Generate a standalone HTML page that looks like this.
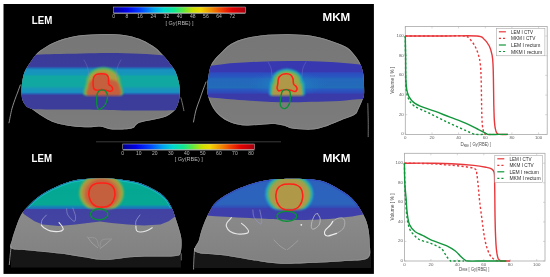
<!DOCTYPE html>
<html><head><meta charset="utf-8"><style>
html,body{margin:0;padding:0;background:#fff;}
body{width:550px;height:277px;overflow:hidden;position:relative;}
svg{position:absolute;left:0;top:0;display:block;}
text{font-family:"Liberation Sans",sans-serif;}
</style></head><body>
<svg width="550" height="277" viewBox="0 0 550 277" xmlns="http://www.w3.org/2000/svg">
<defs>
<linearGradient id="jet" x1="0" x2="1" y1="0" y2="0">
<stop offset="0" stop-color="#000090"/>
<stop offset="0.1" stop-color="#0000e8"/>
<stop offset="0.2" stop-color="#0040ff"/>
<stop offset="0.3" stop-color="#00a0f0"/>
<stop offset="0.38" stop-color="#00d8d0"/>
<stop offset="0.46" stop-color="#10e890"/>
<stop offset="0.53" stop-color="#60e840"/>
<stop offset="0.6" stop-color="#c8e000"/>
<stop offset="0.66" stop-color="#f0d800"/>
<stop offset="0.74" stop-color="#f09000"/>
<stop offset="0.82" stop-color="#f04000"/>
<stop offset="0.9" stop-color="#e00000"/>
<stop offset="1" stop-color="#a80010"/>
</linearGradient>
<filter id="b1" x="-20%" y="-20%" width="140%" height="140%"><feGaussianBlur stdDeviation="0.6"/></filter>
<filter id="b2" x="-30%" y="-30%" width="160%" height="160%"><feGaussianBlur stdDeviation="1.5"/></filter>
<filter id="b3" x="-50%" y="-50%" width="200%" height="200%"><feGaussianBlur stdDeviation="3"/></filter>
<clipPath id="c_tl"><path d="M21.5,90.0 C21.5,86.7 21.9,83.2 22.5,80.0 C23.1,76.8 23.6,74.1 25.0,71.0 C26.4,67.9 28.7,64.5 30.9,61.4 C33.1,58.3 35.5,54.9 38.2,52.3 C40.9,49.7 44.3,47.7 47.3,45.9 C50.3,44.1 51.9,43.0 56.4,41.4 C60.9,39.8 68.5,37.4 74.5,36.3 C80.5,35.1 86.8,34.9 92.7,34.5 C98.6,34.1 104.1,33.8 110.0,34.0 C115.9,34.2 122.6,34.8 128.0,35.8 C133.4,36.8 138.0,38.3 142.5,40.3 C147.0,42.3 151.5,44.9 155.1,47.6 C158.7,50.3 161.5,53.6 164.2,56.6 C166.9,59.6 169.4,62.9 171.4,65.6 C173.4,68.3 174.6,69.6 175.9,72.8 C177.2,76.0 178.7,81.0 179.3,85.0 C179.9,89.0 179.8,93.7 179.5,97.0 C179.2,100.3 178.4,102.7 177.5,105.0 C176.6,107.3 175.8,109.2 174.0,111.0 C172.2,112.8 169.3,114.8 167.0,116.0 C164.7,117.2 162.8,117.6 160.0,118.3 C157.2,119.0 153.8,119.5 150.5,120.2 C147.2,120.9 142.4,121.7 140.0,122.5 C137.6,123.3 137.4,124.0 136.0,125.0 C134.6,126.0 135.5,127.7 131.6,128.4 C127.7,129.2 117.9,129.8 112.6,129.5 C107.3,129.2 104.0,126.9 100.0,126.5 C96.0,126.1 93.2,127.3 88.6,127.3 C84.0,127.3 77.5,126.9 72.3,126.3 C67.1,125.7 61.6,124.6 57.5,123.5 C53.4,122.4 50.7,121.0 47.7,119.5 C44.7,118.0 42.2,116.3 39.5,114.5 C36.8,112.7 33.6,110.1 31.4,108.8 C29.2,107.5 28.0,107.9 26.5,106.4 C25.0,104.9 23.2,102.5 22.4,99.8 C21.6,97.1 21.5,93.3 21.5,90.0Z"/></clipPath>
<clipPath id="c_tr"><path d="M207.0,90.0 C206.6,85.3 207.9,80.0 208.5,76.0 C209.1,72.0 209.7,68.6 210.8,65.8 C211.9,63.0 213.5,61.0 215.0,59.0 C216.5,57.0 217.2,56.5 219.8,54.0 C222.5,51.5 226.5,46.7 230.9,44.0 C235.3,41.3 240.2,39.4 246.4,37.9 C252.6,36.4 260.8,35.4 268.0,34.8 C275.2,34.2 282.4,34.1 289.6,34.2 C296.8,34.4 304.6,34.7 311.3,35.7 C318.0,36.7 324.1,38.6 329.8,40.4 C335.5,42.2 341.6,44.6 345.3,46.5 C349.0,48.4 349.6,49.4 352.0,52.0 C354.4,54.6 357.6,58.7 359.5,62.2 C361.4,65.7 362.4,69.2 363.1,73.0 C363.9,76.8 363.9,81.3 364.0,85.0 C364.1,88.7 364.3,92.3 364.0,95.0 C363.7,97.7 363.0,98.5 362.0,101.0 C361.0,103.5 359.2,107.7 358.0,110.0 C356.8,112.3 357.8,112.9 354.6,114.7 C351.5,116.5 344.3,118.8 339.1,120.9 C333.9,123.0 328.2,125.6 323.6,127.1 C319.0,128.5 316.5,129.3 311.3,129.6 C306.1,129.8 297.3,129.3 292.7,128.6 C288.1,127.9 287.1,126.3 283.5,125.5 C279.9,124.7 277.2,124.0 271.0,124.0 C264.8,124.0 253.1,125.8 246.4,125.5 C239.7,125.2 235.6,124.3 230.9,122.5 C226.2,120.7 221.8,117.8 218.5,114.7 C215.2,111.6 212.9,108.1 211.0,104.0 C209.1,99.9 207.4,94.7 207.0,90.0Z"/></clipPath>
<clipPath id="c_bl"><path d="M12.0,240.0 C12.8,236.2 14.9,230.2 16.4,226.0 C17.9,221.8 19.3,218.0 21.0,215.0 C22.7,212.0 23.8,210.8 26.5,208.0 C29.2,205.2 32.8,201.1 37.0,197.9 C41.2,194.7 46.0,191.7 51.5,189.0 C57.0,186.3 64.4,183.2 70.0,181.5 C75.6,179.8 79.4,179.6 85.3,179.0 C91.2,178.4 98.9,178.0 105.5,178.2 C112.1,178.4 119.2,179.3 125.0,180.2 C130.8,181.0 135.1,181.6 140.2,183.3 C145.2,185.0 151.1,187.9 155.3,190.3 C159.5,192.7 162.7,195.0 165.4,197.9 C168.2,200.8 170.1,204.7 171.8,208.0 C173.5,211.3 174.2,214.3 175.5,218.0 C176.8,221.7 178.3,226.3 179.3,230.0 C180.3,233.7 181.3,236.3 181.5,240.0 C181.7,243.7 181.6,249.3 180.7,252.0 C179.8,254.7 181.1,255.2 176.0,256.0 C170.9,256.8 157.7,256.3 150.0,256.5 C142.3,256.7 136.3,256.7 130.0,257.2 C123.7,257.7 117.2,259.1 112.0,259.5 C106.8,259.9 103.4,260.0 98.8,259.6 C94.2,259.2 90.7,258.2 84.2,257.2 C77.7,256.2 69.0,254.7 60.0,253.6 C51.0,252.5 38.1,251.3 30.0,250.5 C21.9,249.7 14.5,250.2 11.5,248.5 C8.5,246.8 11.2,243.8 12.0,240.0Z"/></clipPath>
<clipPath id="c_br"><path d="M199.0,240.0 C199.9,236.4 200.4,233.9 201.4,230.7 C202.4,227.4 203.7,223.9 205.2,220.5 C206.7,217.1 208.5,213.3 210.2,210.4 C211.9,207.5 212.8,205.4 215.3,202.9 C217.8,200.4 221.2,197.8 225.4,195.3 C229.6,192.8 234.7,190.0 240.5,187.7 C246.3,185.4 253.4,182.9 260.0,181.4 C266.6,179.9 272.7,179.3 280.3,178.9 C287.9,178.5 298.6,178.6 305.5,178.9 C312.4,179.2 316.9,179.6 322.0,181.0 C327.1,182.4 331.1,184.7 336.0,187.5 C340.9,190.3 347.2,194.0 351.5,198.0 C355.8,202.0 358.9,207.0 361.6,211.6 C364.3,216.2 366.4,220.4 367.7,225.8 C369.0,231.2 369.7,238.6 369.7,244.0 C369.7,249.4 371.8,255.4 367.7,258.2 C363.6,261.0 352.9,260.3 345.0,261.0 C337.1,261.7 330.1,262.1 320.0,262.5 C309.9,262.9 294.4,263.9 284.6,263.7 C274.8,263.5 270.9,262.8 261.0,261.4 C251.2,260.0 236.3,257.1 225.5,255.5 C214.7,253.9 200.4,254.6 196.0,252.0 C191.6,249.4 198.1,243.6 199.0,240.0Z"/></clipPath>
<linearGradient id="mg_tl" x1="0" x2="0" y1="94" y2="97.5" gradientUnits="userSpaceOnUse"><stop offset="0" stop-color="#fff"/><stop offset="1" stop-color="#000"/></linearGradient>
<linearGradient id="mg_tr" x1="0" x2="0" y1="94" y2="97.5" gradientUnits="userSpaceOnUse"><stop offset="0" stop-color="#fff"/><stop offset="1" stop-color="#000"/></linearGradient>
<linearGradient id="mg_bl" x1="0" x2="0" y1="207" y2="211" gradientUnits="userSpaceOnUse"><stop offset="0" stop-color="#fff"/><stop offset="1" stop-color="#000"/></linearGradient>
<linearGradient id="mg_br" x1="0" x2="0" y1="208" y2="212" gradientUnits="userSpaceOnUse"><stop offset="0" stop-color="#fff"/><stop offset="1" stop-color="#000"/></linearGradient>
<mask id="m_hot_tl" maskUnits="userSpaceOnUse" x="0" y="0" width="550" height="277"><rect x="60" y="50" width="90" height="60" fill="url(#mg_tl)"/></mask>
<mask id="m_hot_tr" maskUnits="userSpaceOnUse" x="0" y="0" width="550" height="277"><rect x="240" y="50" width="90" height="60" fill="url(#mg_tr)"/></mask>
<mask id="m_hot_bl" maskUnits="userSpaceOnUse" x="0" y="0" width="550" height="277"><rect x="60" y="165" width="90" height="60" fill="url(#mg_bl)"/></mask>
<mask id="m_hot_br" maskUnits="userSpaceOnUse" x="0" y="0" width="550" height="277"><rect x="240" y="165" width="90" height="60" fill="url(#mg_br)"/></mask>
<clipPath id="c_rim"><rect x="0" y="170" width="380" height="38"/></clipPath>
<linearGradient id="band_bl" x1="0" x2="0" y1="178" y2="211" gradientUnits="userSpaceOnUse">
<stop offset="0.0000" stop-color="#10b0a8"/>
<stop offset="0.1212" stop-color="#06ac98"/>
<stop offset="0.3636" stop-color="#04a892"/>
<stop offset="0.8030" stop-color="#06a894"/>
<stop offset="0.8636" stop-color="#1488b4"/>
<stop offset="0.9242" stop-color="#2070b8"/>
<stop offset="0.9697" stop-color="#3848a8"/>
<stop offset="1.0000" stop-color="#4040a4"/>
</linearGradient>
<linearGradient id="band_br" x1="0" x2="0" y1="178" y2="210" gradientUnits="userSpaceOnUse">
<stop offset="0.0000" stop-color="#2a5cc0"/>
<stop offset="0.1250" stop-color="#2c62bc"/>
<stop offset="0.8125" stop-color="#2c64bc"/>
<stop offset="0.9062" stop-color="#3050b8"/>
<stop offset="1.0000" stop-color="#3c3ca8"/>
</linearGradient>
<linearGradient id="bband_bl" x1="0" x2="0" y1="208" y2="228" gradientUnits="userSpaceOnUse">
<stop offset="0.0000" stop-color="#4042a4"/>
<stop offset="0.2000" stop-color="#4242a2"/>
<stop offset="1.0000" stop-color="#4444a2"/>
</linearGradient>
<linearGradient id="bband_br" x1="0" x2="0" y1="208" y2="220" gradientUnits="userSpaceOnUse">
<stop offset="0.0000" stop-color="#3e3eac"/>
<stop offset="1.0000" stop-color="#4040aa"/>
</linearGradient>
<linearGradient id="gray_t" x1="0" x2="0" y1="34" y2="130" gradientUnits="userSpaceOnUse">
<stop offset="0.0000" stop-color="#767676"/>
<stop offset="0.2188" stop-color="#787878"/>
<stop offset="0.7917" stop-color="#7a7a7a"/>
<stop offset="1.0000" stop-color="#7c7c7c"/>
</linearGradient>
<linearGradient id="gray_b" x1="0" x2="0" y1="212" y2="262" gradientUnits="userSpaceOnUse">
<stop offset="0.0000" stop-color="#8a8a8a"/>
<stop offset="0.4600" stop-color="#868686"/>
<stop offset="1.0000" stop-color="#808080"/>
</linearGradient>
<linearGradient id="band_tl" x1="0" x2="0" y1="53" y2="110" gradientUnits="userSpaceOnUse">
<stop offset="0.0000" stop-color="#3a3a98"/>
<stop offset="0.2333" stop-color="#3c3c9c"/>
<stop offset="0.2684" stop-color="#2070b8"/>
<stop offset="0.2947" stop-color="#1890c0"/>
<stop offset="0.3772" stop-color="#1498b8"/>
<stop offset="0.4123" stop-color="#10a8a0"/>
<stop offset="0.5789" stop-color="#12a8a2"/>
<stop offset="0.6228" stop-color="#1898b8"/>
<stop offset="0.6895" stop-color="#1890c0"/>
<stop offset="0.7228" stop-color="#2c58b0"/>
<stop offset="0.7456" stop-color="#3c3c9c"/>
<stop offset="1.0000" stop-color="#3c3c9a"/>
</linearGradient>
<linearGradient id="band_tr" x1="0" x2="0" y1="60" y2="102" gradientUnits="userSpaceOnUse">
<stop offset="0.0000" stop-color="#3838b0"/>
<stop offset="0.2738" stop-color="#3838b0"/>
<stop offset="0.3095" stop-color="#2c4cc0"/>
<stop offset="0.4048" stop-color="#2858c0"/>
<stop offset="0.4524" stop-color="#2468bc"/>
<stop offset="0.6548" stop-color="#226cb8"/>
<stop offset="0.7024" stop-color="#2858c0"/>
<stop offset="0.7857" stop-color="#3048b8"/>
<stop offset="0.8214" stop-color="#3a3aa8"/>
<stop offset="1.0000" stop-color="#3a3aa8"/>
</linearGradient>
<radialGradient id="cy_tr" cx="287" cy="84" r="40" gradientUnits="userSpaceOnUse" gradientTransform="translate(287 84) scale(1 0.32) translate(-287 -84)">
<stop offset="0" stop-color="#1890c0" stop-opacity="0.9"/>
<stop offset="0.5" stop-color="#2080c4" stop-opacity="0.5"/>
<stop offset="1" stop-color="#2070c4" stop-opacity="0"/>
</radialGradient>
<radialGradient id="hot_l" cx="0.5" cy="0.5" r="0.5">
<stop offset="0" stop-color="#e07848"/>
<stop offset="0.55" stop-color="#dc8044"/>
<stop offset="0.72" stop-color="#d0b040"/>
<stop offset="0.86" stop-color="#80c060" stop-opacity="0.8"/>
<stop offset="1" stop-color="#40b0a0" stop-opacity="0"/>
</radialGradient>
<radialGradient id="hot_r" cx="0.5" cy="0.5" r="0.5">
<stop offset="0" stop-color="#d89848"/>
<stop offset="0.55" stop-color="#d49a48"/>
<stop offset="0.70" stop-color="#b8b840"/>
<stop offset="0.82" stop-color="#50c080" stop-opacity="0.9"/>
<stop offset="0.92" stop-color="#30a0d0" stop-opacity="0.6"/>
<stop offset="1" stop-color="#3a70cc" stop-opacity="0"/>
</radialGradient>
<filter id="f0" x="-50%" y="-50%" width="200%" height="200%"><feGaussianBlur stdDeviation="1.0"/></filter>
<filter id="f1" x="-50%" y="-50%" width="200%" height="200%"><feGaussianBlur stdDeviation="0.8"/></filter>
<filter id="f2" x="-50%" y="-50%" width="200%" height="200%"><feGaussianBlur stdDeviation="0.7"/></filter>
<filter id="f3" x="-50%" y="-50%" width="200%" height="200%"><feGaussianBlur stdDeviation="0.9"/></filter>
<filter id="f4" x="-50%" y="-50%" width="200%" height="200%"><feGaussianBlur stdDeviation="1.3"/></filter>
<filter id="f5" x="-50%" y="-50%" width="200%" height="200%"><feGaussianBlur stdDeviation="1.1"/></filter>
</defs>
<rect x="3.5" y="4" width="370.4" height="269.9" fill="#000"/>
<rect x="11" y="244" width="170" height="23.5" fill="#131313" filter="url(#b1)"/>
<rect x="195" y="248" width="176" height="20" fill="#131313" filter="url(#b1)"/>
<path d="M21.5,90.0 C21.5,86.7 21.9,83.2 22.5,80.0 C23.1,76.8 23.6,74.1 25.0,71.0 C26.4,67.9 28.7,64.5 30.9,61.4 C33.1,58.3 35.5,54.9 38.2,52.3 C40.9,49.7 44.3,47.7 47.3,45.9 C50.3,44.1 51.9,43.0 56.4,41.4 C60.9,39.8 68.5,37.4 74.5,36.3 C80.5,35.1 86.8,34.9 92.7,34.5 C98.6,34.1 104.1,33.8 110.0,34.0 C115.9,34.2 122.6,34.8 128.0,35.8 C133.4,36.8 138.0,38.3 142.5,40.3 C147.0,42.3 151.5,44.9 155.1,47.6 C158.7,50.3 161.5,53.6 164.2,56.6 C166.9,59.6 169.4,62.9 171.4,65.6 C173.4,68.3 174.6,69.6 175.9,72.8 C177.2,76.0 178.7,81.0 179.3,85.0 C179.9,89.0 179.8,93.7 179.5,97.0 C179.2,100.3 178.4,102.7 177.5,105.0 C176.6,107.3 175.8,109.2 174.0,111.0 C172.2,112.8 169.3,114.8 167.0,116.0 C164.7,117.2 162.8,117.6 160.0,118.3 C157.2,119.0 153.8,119.5 150.5,120.2 C147.2,120.9 142.4,121.7 140.0,122.5 C137.6,123.3 137.4,124.0 136.0,125.0 C134.6,126.0 135.5,127.7 131.6,128.4 C127.7,129.2 117.9,129.8 112.6,129.5 C107.3,129.2 104.0,126.9 100.0,126.5 C96.0,126.1 93.2,127.3 88.6,127.3 C84.0,127.3 77.5,126.9 72.3,126.3 C67.1,125.7 61.6,124.6 57.5,123.5 C53.4,122.4 50.7,121.0 47.7,119.5 C44.7,118.0 42.2,116.3 39.5,114.5 C36.8,112.7 33.6,110.1 31.4,108.8 C29.2,107.5 28.0,107.9 26.5,106.4 C25.0,104.9 23.2,102.5 22.4,99.8 C21.6,97.1 21.5,93.3 21.5,90.0Z" fill="url(#gray_t)"/>
<path d="M21.5,90.0 C21.5,86.7 21.9,83.2 22.5,80.0 C23.1,76.8 23.6,74.1 25.0,71.0 C26.4,67.9 28.7,64.5 30.9,61.4 C33.1,58.3 35.5,54.9 38.2,52.3 C40.9,49.7 44.3,47.7 47.3,45.9 C50.3,44.1 51.9,43.0 56.4,41.4 C60.9,39.8 68.5,37.4 74.5,36.3 C80.5,35.1 86.8,34.9 92.7,34.5 C98.6,34.1 104.1,33.8 110.0,34.0 C115.9,34.2 122.6,34.8 128.0,35.8 C133.4,36.8 138.0,38.3 142.5,40.3 C147.0,42.3 151.5,44.9 155.1,47.6 C158.7,50.3 161.5,53.6 164.2,56.6 C166.9,59.6 169.4,62.9 171.4,65.6 C173.4,68.3 174.6,69.6 175.9,72.8 C177.2,76.0 178.7,81.0 179.3,85.0 C179.9,89.0 179.8,93.7 179.5,97.0 C179.2,100.3 178.4,102.7 177.5,105.0 C176.6,107.3 175.8,109.2 174.0,111.0 C172.2,112.8 169.3,114.8 167.0,116.0 C164.7,117.2 162.8,117.6 160.0,118.3 C157.2,119.0 153.8,119.5 150.5,120.2 C147.2,120.9 142.4,121.7 140.0,122.5 C137.6,123.3 137.4,124.0 136.0,125.0 C134.6,126.0 135.5,127.7 131.6,128.4 C127.7,129.2 117.9,129.8 112.6,129.5 C107.3,129.2 104.0,126.9 100.0,126.5 C96.0,126.1 93.2,127.3 88.6,127.3 C84.0,127.3 77.5,126.9 72.3,126.3 C67.1,125.7 61.6,124.6 57.5,123.5 C53.4,122.4 50.7,121.0 47.7,119.5 C44.7,118.0 42.2,116.3 39.5,114.5 C36.8,112.7 33.6,110.1 31.4,108.8 C29.2,107.5 28.0,107.9 26.5,106.4 C25.0,104.9 23.2,102.5 22.4,99.8 C21.6,97.1 21.5,93.3 21.5,90.0Z" fill="none" stroke="#8e8e8e" stroke-width="1.6" clip-path="url(#c_tl)"/>
<g clip-path="url(#c_tl)">
<path d="M0,56 C30,55 40,54.3 60,54 C80,53.5 100,53 110,53 C130,53.2 150,54 165,55.5 L200,57 L200,109 C180,110 170,110.5 150,110.5 C120,110.8 100,109.5 60,109.5 C40,109.5 30,109.3 0,109.3 Z" fill="url(#band_tl)"/>
<g mask="url(#m_hot_tl)">
<path d="M86.0,97.0 C80.2,94.5 85.9,85.1 86.0,81.8 C86.1,78.5 86.3,78.7 86.8,77.3 C87.4,75.9 88.3,74.5 89.3,73.3 C90.4,72.1 91.7,70.9 93.1,70.1 C94.6,69.2 96.3,68.5 98.0,68.0 C99.6,67.5 101.5,67.3 103.3,67.3 C105.1,67.3 107.0,67.5 108.6,68.0 C110.3,68.5 112.0,69.2 113.5,70.1 C114.9,70.9 116.2,72.1 117.3,73.3 C118.3,74.5 119.2,75.9 119.8,77.3 C120.3,78.7 120.5,78.5 120.6,81.8 C120.7,85.1 126.4,94.5 120.6,97.0 C114.8,99.5 91.8,99.5 86.0,97.0Z" fill="#40b070" opacity="1" filter="url(#f0)"/>
<path d="M87.4,97.0 C82.1,94.5 87.3,84.9 87.4,81.7 C87.5,78.5 87.7,79.0 88.2,77.7 C88.7,76.4 89.5,75.1 90.4,74.1 C91.4,73.0 92.6,72.0 94.0,71.2 C95.3,70.4 96.8,69.8 98.4,69.3 C99.9,68.9 101.7,68.7 103.3,68.7 C104.9,68.7 106.7,68.9 108.2,69.3 C109.8,69.8 111.3,70.4 112.6,71.2 C114.0,72.0 115.2,73.0 116.2,74.1 C117.1,75.1 117.9,76.4 118.4,77.7 C118.9,79.0 119.1,78.5 119.2,81.7 C119.3,84.9 124.5,94.5 119.2,97.0 C113.9,99.5 92.7,99.5 87.4,97.0Z" fill="#88b04c" opacity="1" filter="url(#f1)"/>
<path d="M88.7,97.0 C83.8,94.4 88.6,84.8 88.7,81.6 C88.8,78.4 88.9,79.2 89.4,78.0 C89.9,76.9 90.6,75.8 91.5,74.8 C92.4,73.9 93.5,73.0 94.7,72.3 C95.9,71.6 97.4,71.0 98.8,70.7 C100.2,70.3 101.8,70.1 103.3,70.1 C104.8,70.1 106.4,70.3 107.8,70.7 C109.2,71.0 110.7,71.6 111.9,72.3 C113.1,73.0 114.2,73.9 115.1,74.8 C116.0,75.8 116.7,76.9 117.2,78.0 C117.7,79.2 117.8,78.4 117.9,81.6 C118.0,84.8 122.8,94.4 117.9,97.0 C113.0,99.6 93.6,99.6 88.7,97.0Z" fill="#a8a040" opacity="1" filter="url(#f2)"/>
<path d="M89.0,97.0 C83.9,95.2 88.3,88.6 88.5,86.0 C88.7,83.4 89.2,82.6 90.0,81.5 C90.8,80.4 92.2,80.5 93.0,79.5 C93.8,78.5 93.2,76.6 94.5,75.5 C95.8,74.4 98.4,73.2 100.5,73.0 C102.6,72.8 105.6,73.0 107.0,74.0 C108.4,75.0 107.8,77.9 109.0,79.0 C110.2,80.1 112.9,79.7 114.5,80.5 C116.1,81.3 117.8,81.2 118.5,84.0 C119.2,86.8 123.9,94.8 119.0,97.0 C114.1,99.2 94.1,98.8 89.0,97.0Z" fill="#c4603e" opacity="1" filter="url(#f1)"/>
</g>
</g>
<path d="M93.8,77.3 C94.4,76.0 95.3,75.0 96.6,74.4 C97.9,73.8 100.1,73.7 101.7,73.7 C103.3,73.7 104.9,73.8 106.0,74.4 C107.1,75.0 107.8,75.7 108.3,77.3 C108.8,78.9 108.2,82.5 108.7,84.0 C109.2,85.5 110.9,85.6 111.6,86.5 C112.3,87.4 112.9,88.6 112.7,89.4 C112.5,90.2 111.5,91.2 110.4,91.3 C109.3,91.4 107.5,90.6 106.0,90.3 C104.5,90.0 103.3,89.6 101.7,89.6 C100.1,89.6 97.9,90.5 96.6,90.3 C95.2,90.0 94.2,89.5 93.6,88.1 C93.0,86.7 93.1,83.8 93.1,82.0 C93.1,80.2 93.2,78.6 93.8,77.3Z" fill="none" stroke="#ff2018" stroke-width="1.55"/>
<path d="M101.5,89.9 C102.9,89.7 104.9,90.3 105.9,91.5 C106.9,92.7 107.6,94.7 107.5,96.9 C107.4,99.1 106.6,102.4 105.3,104.5 C104.0,106.6 101.2,109.0 99.9,109.4 C98.6,109.8 97.7,108.4 97.2,106.7 C96.7,105.0 96.6,101.4 96.7,99.1 C96.8,96.8 96.9,94.1 97.7,92.6 C98.5,91.1 100.1,90.1 101.5,89.9Z" fill="none" stroke="#0a9038" stroke-width="1.35"/>
<path d="M207.0,90.0 C206.6,85.3 207.9,80.0 208.5,76.0 C209.1,72.0 209.7,68.6 210.8,65.8 C211.9,63.0 213.5,61.0 215.0,59.0 C216.5,57.0 217.2,56.5 219.8,54.0 C222.5,51.5 226.5,46.7 230.9,44.0 C235.3,41.3 240.2,39.4 246.4,37.9 C252.6,36.4 260.8,35.4 268.0,34.8 C275.2,34.2 282.4,34.1 289.6,34.2 C296.8,34.4 304.6,34.7 311.3,35.7 C318.0,36.7 324.1,38.6 329.8,40.4 C335.5,42.2 341.6,44.6 345.3,46.5 C349.0,48.4 349.6,49.4 352.0,52.0 C354.4,54.6 357.6,58.7 359.5,62.2 C361.4,65.7 362.4,69.2 363.1,73.0 C363.9,76.8 363.9,81.3 364.0,85.0 C364.1,88.7 364.3,92.3 364.0,95.0 C363.7,97.7 363.0,98.5 362.0,101.0 C361.0,103.5 359.2,107.7 358.0,110.0 C356.8,112.3 357.8,112.9 354.6,114.7 C351.5,116.5 344.3,118.8 339.1,120.9 C333.9,123.0 328.2,125.6 323.6,127.1 C319.0,128.5 316.5,129.3 311.3,129.6 C306.1,129.8 297.3,129.3 292.7,128.6 C288.1,127.9 287.1,126.3 283.5,125.5 C279.9,124.7 277.2,124.0 271.0,124.0 C264.8,124.0 253.1,125.8 246.4,125.5 C239.7,125.2 235.6,124.3 230.9,122.5 C226.2,120.7 221.8,117.8 218.5,114.7 C215.2,111.6 212.9,108.1 211.0,104.0 C209.1,99.9 207.4,94.7 207.0,90.0Z" fill="url(#gray_t)"/>
<path d="M207.0,90.0 C206.6,85.3 207.9,80.0 208.5,76.0 C209.1,72.0 209.7,68.6 210.8,65.8 C211.9,63.0 213.5,61.0 215.0,59.0 C216.5,57.0 217.2,56.5 219.8,54.0 C222.5,51.5 226.5,46.7 230.9,44.0 C235.3,41.3 240.2,39.4 246.4,37.9 C252.6,36.4 260.8,35.4 268.0,34.8 C275.2,34.2 282.4,34.1 289.6,34.2 C296.8,34.4 304.6,34.7 311.3,35.7 C318.0,36.7 324.1,38.6 329.8,40.4 C335.5,42.2 341.6,44.6 345.3,46.5 C349.0,48.4 349.6,49.4 352.0,52.0 C354.4,54.6 357.6,58.7 359.5,62.2 C361.4,65.7 362.4,69.2 363.1,73.0 C363.9,76.8 363.9,81.3 364.0,85.0 C364.1,88.7 364.3,92.3 364.0,95.0 C363.7,97.7 363.0,98.5 362.0,101.0 C361.0,103.5 359.2,107.7 358.0,110.0 C356.8,112.3 357.8,112.9 354.6,114.7 C351.5,116.5 344.3,118.8 339.1,120.9 C333.9,123.0 328.2,125.6 323.6,127.1 C319.0,128.5 316.5,129.3 311.3,129.6 C306.1,129.8 297.3,129.3 292.7,128.6 C288.1,127.9 287.1,126.3 283.5,125.5 C279.9,124.7 277.2,124.0 271.0,124.0 C264.8,124.0 253.1,125.8 246.4,125.5 C239.7,125.2 235.6,124.3 230.9,122.5 C226.2,120.7 221.8,117.8 218.5,114.7 C215.2,111.6 212.9,108.1 211.0,104.0 C209.1,99.9 207.4,94.7 207.0,90.0Z" fill="none" stroke="#8e8e8e" stroke-width="1.6" clip-path="url(#c_tr)"/>
<g clip-path="url(#c_tr)">
<path d="M195,67.5 C210,66 220,64.5 230,63.3 C250,62 270,61 290,61 C310,61 330,61.5 350,63.5 L375,66 L375,99 C360,98.5 350,100 340,101 C320,101.5 300,102.3 290,102.3 C270,102 250,100.8 234,99.5 C220,98.5 210,97 195,96 Z" fill="url(#band_tr)"/>
<rect x="230" y="66" width="115" height="30" fill="url(#cy_tr)"/>
<g mask="url(#m_hot_tr)">
<g filter="url(#f0)" fill="#20a0c0"><path d="M271.5,97.0 C266.3,94.3 271.4,84.1 271.5,80.8 C271.6,77.5 271.8,78.3 272.3,77.1 C272.8,75.9 273.5,74.7 274.5,73.7 C275.4,72.7 276.6,71.8 277.9,71.1 C279.2,70.4 280.7,69.8 282.2,69.4 C283.7,69.0 285.4,68.8 287.0,68.8 C288.6,68.8 290.3,69.0 291.8,69.4 C293.3,69.8 294.8,70.4 296.1,71.1 C297.4,71.8 298.6,72.7 299.5,73.7 C300.5,74.7 301.2,75.9 301.7,77.1 C302.2,78.3 302.4,77.5 302.5,80.8 C302.6,84.1 307.7,94.3 302.5,97.0 C297.3,99.7 276.7,99.7 271.5,97.0Z"/><path d="M269.8,97 L269.8,85.0 Q269.8,79.0 275.8,79.0 L298.4,79.0 Q304.4,79.0 304.4,85.0 L304.4,97 Z"/></g>
<g filter="url(#f3)" fill="#30b0a0"><path d="M273.0,97.0 C268.3,94.3 272.9,84.0 273.0,80.7 C273.1,77.4 273.2,78.5 273.7,77.5 C274.1,76.4 274.8,75.4 275.7,74.5 C276.5,73.7 277.6,72.8 278.8,72.2 C279.9,71.6 281.3,71.0 282.7,70.7 C284.0,70.4 285.6,70.2 287.0,70.2 C288.4,70.2 290.0,70.4 291.3,70.7 C292.7,71.0 294.1,71.6 295.2,72.2 C296.4,72.8 297.5,73.7 298.3,74.5 C299.2,75.4 299.9,76.4 300.3,77.5 C300.8,78.5 300.9,77.4 301.0,80.7 C301.1,84.0 305.7,94.3 301.0,97.0 C296.3,99.7 277.7,99.7 273.0,97.0Z"/><path d="M271.2,97 L271.2,85.5 Q271.2,80.5 276.2,80.5 L298.0,80.5 Q303.0,80.5 303.0,85.5 L303.0,97 Z"/></g>
<g filter="url(#f1)" fill="#78b050"><path d="M274.2,97.0 C269.9,94.3 274.1,84.2 274.2,81.0 C274.3,77.8 274.4,79.0 274.8,78.1 C275.2,77.1 275.9,76.2 276.6,75.4 C277.4,74.6 278.4,73.9 279.5,73.3 C280.5,72.7 281.8,72.3 283.0,72.0 C284.3,71.7 285.7,71.5 287.0,71.5 C288.3,71.5 289.7,71.7 291.0,72.0 C292.2,72.3 293.5,72.7 294.5,73.3 C295.6,73.9 296.6,74.6 297.4,75.4 C298.1,76.2 298.8,77.1 299.2,78.1 C299.6,79.0 299.7,77.8 299.8,81.0 C299.9,84.2 304.1,94.3 299.8,97.0 C295.5,99.7 278.5,99.7 274.2,97.0Z"/><path d="M272.5,97 L272.5,86.5 Q272.5,82.0 277.0,82.0 L297.2,82.0 Q301.7,82.0 301.7,86.5 L301.7,97 Z"/></g>
<g filter="url(#f1)" fill="#a0a848"><path d="M275.5,97.0 C271.7,94.3 275.4,84.1 275.5,81.0 C275.6,77.9 275.7,79.2 276.1,78.4 C276.4,77.5 277.0,76.7 277.7,76.0 C278.4,75.3 279.3,74.6 280.2,74.1 C281.2,73.6 282.3,73.2 283.4,72.9 C284.6,72.6 285.8,72.5 287.0,72.5 C288.2,72.5 289.4,72.6 290.6,72.9 C291.7,73.2 292.8,73.6 293.8,74.1 C294.7,74.6 295.6,75.3 296.3,76.0 C297.0,76.7 297.6,77.5 297.9,78.4 C298.3,79.2 298.4,77.9 298.5,81.0 C298.6,84.1 302.3,94.3 298.5,97.0 C294.7,99.7 279.3,99.7 275.5,97.0Z"/><path d="M273.5,97 L273.5,87.0 Q273.5,83.0 277.5,83.0 L296.7,83.0 Q300.7,83.0 300.7,87.0 L300.7,97 Z"/></g>
<path d="M274.5,97.0 C270.2,95.3 273.9,89.2 274.2,87.0 C274.4,84.8 275.4,84.6 276.0,84.0 C276.6,83.4 277.6,84.6 278.0,83.5 C278.4,82.4 277.9,79.0 278.6,77.5 C279.4,76.0 281.1,75.2 282.5,74.6 C283.9,74.0 285.3,73.9 286.7,74.0 C288.1,74.1 289.7,74.5 290.6,75.2 C291.6,76.0 292.0,77.2 292.4,78.5 C292.8,79.8 292.2,82.2 293.0,83.0 C293.8,83.8 295.9,82.8 297.0,83.5 C298.1,84.2 299.3,84.8 299.8,87.0 C300.3,89.2 304.2,95.3 300.0,97.0 C295.8,98.7 278.8,98.7 274.5,97.0Z" fill="#b09848" opacity="1" filter="url(#f1)"/>
</g>
</g>
<path d="M279.2,77.1 C279.9,76.2 281.4,75.0 282.6,74.4 C283.9,73.8 285.3,73.6 286.7,73.7 C288.1,73.8 289.8,74.2 290.8,75.0 C291.8,75.8 292.4,77.0 292.9,78.5 C293.4,80.0 293.0,82.6 293.6,84.0 C294.2,85.4 295.7,85.8 296.3,86.7 C296.9,87.6 297.2,88.7 297.0,89.5 C296.8,90.3 296.0,91.4 295.0,91.5 C294.0,91.6 292.2,90.5 290.8,90.2 C289.4,89.9 288.2,89.5 286.7,89.5 C285.2,89.5 283.3,90.0 281.9,90.2 C280.5,90.4 279.3,91.2 278.5,90.8 C277.7,90.4 277.2,89.2 277.1,88.1 C277.0,87.0 277.6,85.4 277.8,84.0 C278.0,82.6 278.0,81.1 278.2,79.9 C278.4,78.8 278.5,78.0 279.2,77.1Z" fill="none" stroke="#ff2018" stroke-width="1.55"/>
<path d="M285.9,89.6 C287.1,89.6 288.8,90.2 289.5,91.0 C290.2,91.8 290.3,92.4 290.3,94.5 C290.3,96.6 290.3,101.2 289.4,103.6 C288.5,105.9 286.4,108.3 284.9,108.6 C283.4,108.9 281.0,107.7 280.4,105.4 C279.8,103.1 280.8,97.4 281.2,95.0 C281.6,92.6 281.7,91.9 282.5,91.0 C283.3,90.1 284.7,89.6 285.9,89.6Z" fill="none" stroke="#0a9038" stroke-width="1.35"/>
<path d="M12.0,240.0 C12.8,236.2 14.9,230.2 16.4,226.0 C17.9,221.8 19.3,218.0 21.0,215.0 C22.7,212.0 23.8,210.8 26.5,208.0 C29.2,205.2 32.8,201.1 37.0,197.9 C41.2,194.7 46.0,191.7 51.5,189.0 C57.0,186.3 64.4,183.2 70.0,181.5 C75.6,179.8 79.4,179.6 85.3,179.0 C91.2,178.4 98.9,178.0 105.5,178.2 C112.1,178.4 119.2,179.3 125.0,180.2 C130.8,181.0 135.1,181.6 140.2,183.3 C145.2,185.0 151.1,187.9 155.3,190.3 C159.5,192.7 162.7,195.0 165.4,197.9 C168.2,200.8 170.1,204.7 171.8,208.0 C173.5,211.3 174.2,214.3 175.5,218.0 C176.8,221.7 178.3,226.3 179.3,230.0 C180.3,233.7 181.3,236.3 181.5,240.0 C181.7,243.7 181.6,249.3 180.7,252.0 C179.8,254.7 181.1,255.2 176.0,256.0 C170.9,256.8 157.7,256.3 150.0,256.5 C142.3,256.7 136.3,256.7 130.0,257.2 C123.7,257.7 117.2,259.1 112.0,259.5 C106.8,259.9 103.4,260.0 98.8,259.6 C94.2,259.2 90.7,258.2 84.2,257.2 C77.7,256.2 69.0,254.7 60.0,253.6 C51.0,252.5 38.1,251.3 30.0,250.5 C21.9,249.7 14.5,250.2 11.5,248.5 C8.5,246.8 11.2,243.8 12.0,240.0Z" fill="url(#gray_b)"/>
<path d="M12.0,240.0 C12.8,236.2 14.9,230.2 16.4,226.0 C17.9,221.8 19.3,218.0 21.0,215.0 C22.7,212.0 23.8,210.8 26.5,208.0 C29.2,205.2 32.8,201.1 37.0,197.9 C41.2,194.7 46.0,191.7 51.5,189.0 C57.0,186.3 64.4,183.2 70.0,181.5 C75.6,179.8 79.4,179.6 85.3,179.0 C91.2,178.4 98.9,178.0 105.5,178.2 C112.1,178.4 119.2,179.3 125.0,180.2 C130.8,181.0 135.1,181.6 140.2,183.3 C145.2,185.0 151.1,187.9 155.3,190.3 C159.5,192.7 162.7,195.0 165.4,197.9 C168.2,200.8 170.1,204.7 171.8,208.0 C173.5,211.3 174.2,214.3 175.5,218.0 C176.8,221.7 178.3,226.3 179.3,230.0 C180.3,233.7 181.3,236.3 181.5,240.0 C181.7,243.7 181.6,249.3 180.7,252.0 C179.8,254.7 181.1,255.2 176.0,256.0 C170.9,256.8 157.7,256.3 150.0,256.5 C142.3,256.7 136.3,256.7 130.0,257.2 C123.7,257.7 117.2,259.1 112.0,259.5 C106.8,259.9 103.4,260.0 98.8,259.6 C94.2,259.2 90.7,258.2 84.2,257.2 C77.7,256.2 69.0,254.7 60.0,253.6 C51.0,252.5 38.1,251.3 30.0,250.5 C21.9,249.7 14.5,250.2 11.5,248.5 C8.5,246.8 11.2,243.8 12.0,240.0Z" fill="none" stroke="#8e8e8e" stroke-width="1.6" clip-path="url(#c_bl)"/>
<g clip-path="url(#c_bl)">
<rect x="0" y="170" width="200" height="41" fill="url(#band_bl)"/>
<path d="M12.0,240.0 C12.8,236.2 14.9,230.2 16.4,226.0 C17.9,221.8 19.3,218.0 21.0,215.0 C22.7,212.0 23.8,210.8 26.5,208.0 C29.2,205.2 32.8,201.1 37.0,197.9 C41.2,194.7 46.0,191.7 51.5,189.0 C57.0,186.3 64.4,183.2 70.0,181.5 C75.6,179.8 79.4,179.6 85.3,179.0 C91.2,178.4 98.9,178.0 105.5,178.2 C112.1,178.4 119.2,179.3 125.0,180.2 C130.8,181.0 135.1,181.6 140.2,183.3 C145.2,185.0 151.1,187.9 155.3,190.3 C159.5,192.7 162.7,195.0 165.4,197.9 C168.2,200.8 170.1,204.7 171.8,208.0 C173.5,211.3 174.2,214.3 175.5,218.0 C176.8,221.7 178.3,226.3 179.3,230.0 C180.3,233.7 181.3,236.3 181.5,240.0 C181.7,243.7 181.6,249.3 180.7,252.0 C179.8,254.7 181.1,255.2 176.0,256.0 C170.9,256.8 157.7,256.3 150.0,256.5 C142.3,256.7 136.3,256.7 130.0,257.2 C123.7,257.7 117.2,259.1 112.0,259.5 C106.8,259.9 103.4,260.0 98.8,259.6 C94.2,259.2 90.7,258.2 84.2,257.2 C77.7,256.2 69.0,254.7 60.0,253.6 C51.0,252.5 38.1,251.3 30.0,250.5 C21.9,249.7 14.5,250.2 11.5,248.5 C8.5,246.8 11.2,243.8 12.0,240.0Z" fill="none" stroke="#18c0c0" stroke-width="3.4" opacity="0.8" clip-path="url(#c_rim)"/>
<path d="M12.0,240.0 C12.8,236.2 14.9,230.2 16.4,226.0 C17.9,221.8 19.3,218.0 21.0,215.0 C22.7,212.0 23.8,210.8 26.5,208.0 C29.2,205.2 32.8,201.1 37.0,197.9 C41.2,194.7 46.0,191.7 51.5,189.0 C57.0,186.3 64.4,183.2 70.0,181.5 C75.6,179.8 79.4,179.6 85.3,179.0 C91.2,178.4 98.9,178.0 105.5,178.2 C112.1,178.4 119.2,179.3 125.0,180.2 C130.8,181.0 135.1,181.6 140.2,183.3 C145.2,185.0 151.1,187.9 155.3,190.3 C159.5,192.7 162.7,195.0 165.4,197.9 C168.2,200.8 170.1,204.7 171.8,208.0 C173.5,211.3 174.2,214.3 175.5,218.0 C176.8,221.7 178.3,226.3 179.3,230.0 C180.3,233.7 181.3,236.3 181.5,240.0 C181.7,243.7 181.6,249.3 180.7,252.0 C179.8,254.7 181.1,255.2 176.0,256.0 C170.9,256.8 157.7,256.3 150.0,256.5 C142.3,256.7 136.3,256.7 130.0,257.2 C123.7,257.7 117.2,259.1 112.0,259.5 C106.8,259.9 103.4,260.0 98.8,259.6 C94.2,259.2 90.7,258.2 84.2,257.2 C77.7,256.2 69.0,254.7 60.0,253.6 C51.0,252.5 38.1,251.3 30.0,250.5 C21.9,249.7 14.5,250.2 11.5,248.5 C8.5,246.8 11.2,243.8 12.0,240.0Z" fill="none" stroke="#2040a0" stroke-width="1.3" opacity="0.9" clip-path="url(#c_rim)"/>
<path d="M0,209 L200,209 L200,205 L178,212 L175.2,216.4 L168.6,221.3 L160.5,224.5 L144.0,225.4 L127.7,224.5 L111.4,222.9 L100.0,221.5 L91.8,222.5 L75.5,224.5 L59.0,226.0 L42.7,224.5 L34.5,221.3 L24.7,214.7 L20.0,210.0 L0.0,205.0 Z" fill="url(#bband_bl)"/>
<g mask="url(#m_hot_bl)">
<ellipse cx="101.5" cy="193" rx="22.5" ry="19" fill="#60b060" opacity="1" filter="url(#f4)"/>
<ellipse cx="101.5" cy="193" rx="21" ry="18" fill="#a0a840" opacity="1" filter="url(#f5)"/>
<ellipse cx="101.5" cy="193" rx="19.5" ry="17" fill="#b88840" opacity="1" filter="url(#f0)"/>
<ellipse cx="101.5" cy="194" rx="16.5" ry="15" fill="#c4603e" opacity="1" filter="url(#f3)"/>
</g>
</g>
<path d="M114.9,195.0 C114.8,196.4 114.3,198.1 113.9,199.3 C113.5,200.5 113.0,201.3 112.5,202.1 C112.0,202.9 111.4,203.6 110.7,204.3 C110.0,204.9 109.3,205.4 108.5,205.8 C107.7,206.3 106.9,206.6 105.8,206.8 C104.7,207.0 103.2,207.1 101.9,207.1 C100.6,207.1 99.1,207.0 98.0,206.8 C96.9,206.6 96.1,206.3 95.3,205.8 C94.5,205.4 93.8,204.9 93.1,204.3 C92.4,203.6 91.8,202.9 91.3,202.1 C90.8,201.3 90.3,200.5 89.9,199.3 C89.5,198.1 89.0,196.4 88.9,195.0 C88.8,193.6 89.0,191.9 89.2,190.7 C89.5,189.5 89.8,188.7 90.3,187.9 C90.7,187.1 91.3,186.4 91.9,185.7 C92.6,185.1 93.4,184.6 94.3,184.2 C95.2,183.7 96.0,183.4 97.3,183.2 C98.6,183.0 100.4,182.9 101.9,182.9 C103.4,182.9 105.2,183.0 106.5,183.2 C107.8,183.4 108.6,183.7 109.5,184.2 C110.4,184.6 111.2,185.1 111.9,185.7 C112.5,186.4 113.1,187.1 113.5,187.9 C114.0,188.7 114.3,189.5 114.6,190.7 C114.8,191.9 115.0,193.6 114.9,195.0Z" fill="none" stroke="#ff2018" stroke-width="1.55"/>
<ellipse cx="99.2" cy="214.2" rx="8.7" ry="5.5" fill="none" stroke="#0a9038" stroke-width="1.35"/>
<path d="M199.0,240.0 C199.9,236.4 200.4,233.9 201.4,230.7 C202.4,227.4 203.7,223.9 205.2,220.5 C206.7,217.1 208.5,213.3 210.2,210.4 C211.9,207.5 212.8,205.4 215.3,202.9 C217.8,200.4 221.2,197.8 225.4,195.3 C229.6,192.8 234.7,190.0 240.5,187.7 C246.3,185.4 253.4,182.9 260.0,181.4 C266.6,179.9 272.7,179.3 280.3,178.9 C287.9,178.5 298.6,178.6 305.5,178.9 C312.4,179.2 316.9,179.6 322.0,181.0 C327.1,182.4 331.1,184.7 336.0,187.5 C340.9,190.3 347.2,194.0 351.5,198.0 C355.8,202.0 358.9,207.0 361.6,211.6 C364.3,216.2 366.4,220.4 367.7,225.8 C369.0,231.2 369.7,238.6 369.7,244.0 C369.7,249.4 371.8,255.4 367.7,258.2 C363.6,261.0 352.9,260.3 345.0,261.0 C337.1,261.7 330.1,262.1 320.0,262.5 C309.9,262.9 294.4,263.9 284.6,263.7 C274.8,263.5 270.9,262.8 261.0,261.4 C251.2,260.0 236.3,257.1 225.5,255.5 C214.7,253.9 200.4,254.6 196.0,252.0 C191.6,249.4 198.1,243.6 199.0,240.0Z" fill="url(#gray_b)"/>
<path d="M199.0,240.0 C199.9,236.4 200.4,233.9 201.4,230.7 C202.4,227.4 203.7,223.9 205.2,220.5 C206.7,217.1 208.5,213.3 210.2,210.4 C211.9,207.5 212.8,205.4 215.3,202.9 C217.8,200.4 221.2,197.8 225.4,195.3 C229.6,192.8 234.7,190.0 240.5,187.7 C246.3,185.4 253.4,182.9 260.0,181.4 C266.6,179.9 272.7,179.3 280.3,178.9 C287.9,178.5 298.6,178.6 305.5,178.9 C312.4,179.2 316.9,179.6 322.0,181.0 C327.1,182.4 331.1,184.7 336.0,187.5 C340.9,190.3 347.2,194.0 351.5,198.0 C355.8,202.0 358.9,207.0 361.6,211.6 C364.3,216.2 366.4,220.4 367.7,225.8 C369.0,231.2 369.7,238.6 369.7,244.0 C369.7,249.4 371.8,255.4 367.7,258.2 C363.6,261.0 352.9,260.3 345.0,261.0 C337.1,261.7 330.1,262.1 320.0,262.5 C309.9,262.9 294.4,263.9 284.6,263.7 C274.8,263.5 270.9,262.8 261.0,261.4 C251.2,260.0 236.3,257.1 225.5,255.5 C214.7,253.9 200.4,254.6 196.0,252.0 C191.6,249.4 198.1,243.6 199.0,240.0Z" fill="none" stroke="#8e8e8e" stroke-width="1.6" clip-path="url(#c_br)"/>
<g clip-path="url(#c_br)">
<rect x="190" y="170" width="190" height="40" fill="url(#band_br)"/>
<path d="M199.0,240.0 C199.9,236.4 200.4,233.9 201.4,230.7 C202.4,227.4 203.7,223.9 205.2,220.5 C206.7,217.1 208.5,213.3 210.2,210.4 C211.9,207.5 212.8,205.4 215.3,202.9 C217.8,200.4 221.2,197.8 225.4,195.3 C229.6,192.8 234.7,190.0 240.5,187.7 C246.3,185.4 253.4,182.9 260.0,181.4 C266.6,179.9 272.7,179.3 280.3,178.9 C287.9,178.5 298.6,178.6 305.5,178.9 C312.4,179.2 316.9,179.6 322.0,181.0 C327.1,182.4 331.1,184.7 336.0,187.5 C340.9,190.3 347.2,194.0 351.5,198.0 C355.8,202.0 358.9,207.0 361.6,211.6 C364.3,216.2 366.4,220.4 367.7,225.8 C369.0,231.2 369.7,238.6 369.7,244.0 C369.7,249.4 371.8,255.4 367.7,258.2 C363.6,261.0 352.9,260.3 345.0,261.0 C337.1,261.7 330.1,262.1 320.0,262.5 C309.9,262.9 294.4,263.9 284.6,263.7 C274.8,263.5 270.9,262.8 261.0,261.4 C251.2,260.0 236.3,257.1 225.5,255.5 C214.7,253.9 200.4,254.6 196.0,252.0 C191.6,249.4 198.1,243.6 199.0,240.0Z" fill="none" stroke="#3048c0" stroke-width="2.2" opacity="0.9" clip-path="url(#c_rim)"/>
<path d="M190,208.3 L380,208.3 L380,211 L368,213 C362,215.5 345,217.5 329,219 C310,220 300,220.2 290,220 C280,219.6 275,219.3 268.6,219 C255,218.4 244,217.8 230,217 C220,216.5 210,216 200,215 L190,214 Z" fill="url(#bband_br)"/>
<g mask="url(#m_hot_br)">
<ellipse cx="289.3" cy="194" rx="24" ry="20" fill="#20a0c8" opacity="1" filter="url(#f4)"/>
<ellipse cx="289.3" cy="194" rx="22.5" ry="18.8" fill="#30b0a0" opacity="1" filter="url(#f5)"/>
<ellipse cx="289.3" cy="194" rx="21" ry="17.8" fill="#80b050" opacity="1" filter="url(#f0)"/>
<ellipse cx="289.5" cy="195" rx="19.5" ry="16.5" fill="#b09848" opacity="1" filter="url(#f3)"/>
</g>
</g>
<path d="M302.7,197.0 C302.6,198.5 302.1,200.3 301.7,201.6 C301.2,202.9 300.8,203.7 300.2,204.6 C299.7,205.5 299.1,206.3 298.4,207.0 C297.7,207.6 296.9,208.2 296.1,208.6 C295.3,209.1 294.5,209.4 293.3,209.7 C292.2,209.9 290.6,210.0 289.3,210.0 C288.0,210.0 286.4,209.9 285.3,209.7 C284.1,209.4 283.3,209.1 282.5,208.6 C281.7,208.2 280.9,207.6 280.2,207.0 C279.5,206.3 278.9,205.5 278.4,204.6 C277.8,203.7 277.4,202.9 276.9,201.6 C276.5,200.3 276.0,198.5 275.9,197.0 C275.8,195.5 276.0,193.7 276.3,192.4 C276.5,191.1 276.8,190.3 277.3,189.4 C277.8,188.5 278.3,187.7 279.0,187.0 C279.7,186.4 280.5,185.8 281.4,185.4 C282.4,184.9 283.3,184.6 284.6,184.3 C285.9,184.1 287.7,184.0 289.3,184.0 C290.9,184.0 292.7,184.1 294.0,184.3 C295.3,184.6 296.2,184.9 297.2,185.4 C298.1,185.8 298.9,186.4 299.6,187.0 C300.3,187.7 300.8,188.5 301.3,189.4 C301.8,190.3 302.1,191.1 302.3,192.4 C302.6,193.7 302.8,195.5 302.7,197.0Z" fill="none" stroke="#ff2018" stroke-width="1.55"/>
<ellipse cx="286.8" cy="216.2" rx="10" ry="5" fill="none" stroke="#0a9038" stroke-width="1.35"/>
<path d="M20.3,85.0 C19.9,86.2 18.5,90.0 17.8,92.0 C17.1,94.0 16.9,94.1 15.9,96.9 C14.9,99.7 13.1,104.5 11.9,108.8 C10.8,113.1 9.5,120.5 9.0,122.8" fill="none" stroke="#b0b0b0" stroke-width="0.8" opacity="1" stroke-linecap="round"/>
<path d="M180.9,97.8 C181.2,98.8 182.0,101.8 182.5,104.0 C183.0,106.2 183.7,109.6 183.9,110.7" fill="none" stroke="#a0a0a0" stroke-width="0.7" opacity="1" stroke-linecap="round"/>
<path d="M206.0,82.0 C205.5,83.3 204.1,87.0 203.0,90.0 C201.9,93.0 200.7,96.7 199.5,100.0 C198.3,103.3 197.0,106.3 196.0,110.0 C195.0,113.7 193.9,120.0 193.5,122.0" fill="none" stroke="#b0b0b0" stroke-width="0.8" opacity="1" stroke-linecap="round"/>
<path d="M367.8,103.6 C367.9,106.3 368.1,114.5 368.2,120.0 C368.3,125.5 368.2,133.9 368.2,136.7" fill="none" stroke="#909090" stroke-width="0.8" opacity="1" stroke-linecap="round"/>
<path d="M11.1,246.6 C10.9,248.0 10.5,252.0 10.2,255.0 C9.9,258.0 9.5,263.0 9.3,264.6" fill="none" stroke="#a8a8a8" stroke-width="0.8" opacity="1" stroke-linecap="round"/>
<path d="M181.3,253.8 C181.3,254.8 181.3,259.0 181.3,260.0" fill="none" stroke="#909090" stroke-width="0.7" opacity="1" stroke-linecap="round"/>
<path d="M194.6,248.4 C194.5,250.0 194.2,254.6 194.0,258.0 C193.8,261.4 193.7,267.2 193.6,269.1" fill="none" stroke="#b0b0b0" stroke-width="0.8" opacity="1" stroke-linecap="round"/>
<path d="M84.0,60.0 C84.5,61.0 86.2,63.7 87.0,66.0 C87.8,68.3 88.5,71.3 88.5,74.0 C88.5,76.7 87.2,80.7 87.0,82.0" fill="none" stroke="#8080c0" stroke-width="0.6" opacity="0.6" stroke-linecap="round"/>
<path d="M121.0,60.0 C120.5,61.0 118.8,63.7 118.0,66.0 C117.2,68.3 116.5,71.3 116.5,74.0 C116.5,76.7 117.8,80.7 118.0,82.0" fill="none" stroke="#8080c0" stroke-width="0.6" opacity="0.6" stroke-linecap="round"/>
<path d="M268.0,62.0 C268.5,63.0 270.3,65.7 271.0,68.0 C271.7,70.3 271.8,74.7 272.0,76.0" fill="none" stroke="#8080d0" stroke-width="0.6" opacity="0.6" stroke-linecap="round"/>
<path d="M306.0,62.0 C305.5,63.0 303.7,65.7 303.0,68.0 C302.3,70.3 302.2,74.7 302.0,76.0" fill="none" stroke="#8080d0" stroke-width="0.6" opacity="0.6" stroke-linecap="round"/>
<path d="M46.4,215.1 C45.7,215.9 42.8,218.5 42.0,220.2 C41.2,221.9 41.5,224.4 41.4,225.2" fill="none" stroke="#a8a8d8" stroke-width="0.7" opacity="1" stroke-linecap="round"/>
<path d="M41.4,225.2 C41.8,225.6 42.4,226.8 43.9,227.7 C45.4,228.6 47.7,230.3 50.2,230.9 C52.7,231.5 56.9,231.7 59.0,231.5 C61.1,231.3 62.6,230.4 63.1,229.6 C63.6,228.8 62.9,227.7 62.2,226.5 C61.5,225.3 59.5,223.3 59.0,222.7" fill="none" stroke="#e8e8e8" stroke-width="1.1" opacity="1" stroke-linecap="round"/>
<path d="M66.6,208.8 C66.8,209.9 66.6,213.0 67.9,215.1 C69.2,217.2 72.9,221.2 74.2,221.4 C75.5,221.6 75.7,218.6 75.5,216.4 C75.3,214.2 73.3,209.6 72.9,208.2" fill="none" stroke="#9898d0" stroke-width="0.6" opacity="1" stroke-linecap="round"/>
<path d="M140.0,215.0 C139.3,216.0 136.7,219.1 136.0,221.0 C135.3,222.9 135.9,225.3 135.9,226.2" fill="none" stroke="#a8a8d8" stroke-width="0.7" opacity="1" stroke-linecap="round"/>
<path d="M135.9,226.2 C136.0,226.9 135.8,229.5 136.5,230.5 C137.2,231.5 138.4,231.9 140.0,232.0 C141.6,232.1 143.9,231.7 146.0,231.0 C148.1,230.3 151.2,228.3 152.3,227.8" fill="none" stroke="#e8e8e8" stroke-width="1.1" opacity="1" stroke-linecap="round"/>
<path d="M87.6,237.0 C88.3,238.0 90.3,241.2 92.0,243.0 C93.7,244.8 96.8,246.9 97.7,247.7" fill="none" stroke="#b0b0b0" stroke-width="0.6" opacity="1" stroke-linecap="round"/>
<path d="M111.6,238.9 C110.7,239.8 107.9,242.4 106.0,244.0 C104.1,245.6 101.2,247.7 100.2,248.4" fill="none" stroke="#b0b0b0" stroke-width="0.6" opacity="1" stroke-linecap="round"/>
<path d="M89.0,237.5 C90.2,237.7 94.4,237.1 96.0,238.5 C97.6,239.9 98.1,244.8 98.5,246.0" fill="none" stroke="#a4a4a4" stroke-width="0.5" opacity="1" stroke-linecap="round"/>
<path d="M110.0,239.0 C108.7,239.2 103.7,238.7 102.0,240.0 C100.3,241.3 100.3,245.8 100.0,247.0" fill="none" stroke="#a4a4a4" stroke-width="0.5" opacity="1" stroke-linecap="round"/>
<path d="M231.4,217.6 C230.7,218.4 227.8,221.2 227.0,222.7 C226.2,224.2 225.9,225.0 226.4,226.5 C226.9,228.0 228.3,230.2 230.2,231.5 C232.1,232.8 235.0,233.7 237.7,234.0 C240.4,234.3 244.8,233.9 246.6,233.4 C248.4,232.9 248.7,232.1 248.5,230.9 C248.3,229.8 246.5,227.8 245.3,226.5 C244.1,225.2 242.1,223.8 241.5,223.3" fill="none" stroke="#e4e4e4" stroke-width="1.1" opacity="1" stroke-linecap="round"/>
<path d="M252.9,210.0 C253.1,211.3 252.9,215.3 254.2,217.6 C255.5,219.9 259.2,223.6 260.5,224.0 C261.8,224.4 261.8,222.5 261.7,220.2 C261.6,217.9 260.1,211.7 259.8,210.0" fill="none" stroke="#9898d0" stroke-width="0.6" opacity="1" stroke-linecap="round"/>
<path d="M317.7,213.8 C317.3,213.9 316.1,213.2 315.2,214.5 C314.2,215.8 312.6,219.2 312.0,221.4 C311.4,223.6 311.1,226.4 311.4,227.7 C311.7,229.0 312.6,229.4 313.9,229.0 C315.1,228.6 317.8,226.9 318.9,225.2 C319.9,223.5 320.4,220.8 320.2,218.9 C320.0,217.0 318.1,214.7 317.7,213.8" fill="none" stroke="#c4c4c4" stroke-width="0.8" opacity="1" stroke-linecap="round"/>
<path d="M332.8,221.4 C333.6,220.9 336.2,218.8 337.9,218.3 C339.6,217.8 341.8,217.6 342.9,218.3 C344.0,219.0 344.8,220.9 344.8,222.7 C344.8,224.5 344.3,227.2 342.9,229.0 C341.5,230.8 337.7,232.7 336.6,233.4" fill="none" stroke="#b8b8b8" stroke-width="0.8" opacity="1" stroke-linecap="round"/>
<path d="M332.8,221.4 C332.4,222.0 331.6,223.7 330.3,225.2 C329.1,226.7 326.2,228.8 325.3,230.3 C324.4,231.8 324.2,233.1 324.6,234.0 C325.0,234.9 325.8,236.1 327.8,236.0 C329.8,235.9 335.1,233.8 336.6,233.4" fill="none" stroke="#ececec" stroke-width="1.2" opacity="1" stroke-linecap="round"/>
<circle cx="301.3" cy="224.8" r="0.9" fill="#f0f0f0"/>
<path d="M274.0,240.0 C275.0,241.0 278.1,244.4 280.0,246.0 C281.9,247.6 284.6,248.9 285.5,249.5" fill="none" stroke="#b0b0b0" stroke-width="0.6" opacity="1" stroke-linecap="round"/>
<path d="M298.0,240.5 C297.0,241.4 293.8,244.5 292.0,246.0 C290.2,247.5 288.2,248.9 287.5,249.5" fill="none" stroke="#b0b0b0" stroke-width="0.6" opacity="1" stroke-linecap="round"/>
<rect x="405.3" y="26.4" width="141.9" height="108.0" fill="#fff" stroke="#a8a8a8" stroke-width="0.8"/>
<line x1="405.3" y1="134.4" x2="405.3" y2="132.4" stroke="#b0b0b0" stroke-width="0.5"/>
<line x1="405.3" y1="26.4" x2="405.3" y2="28.4" stroke="#b0b0b0" stroke-width="0.5"/>
<text x="405.3" y="139.4" font-size="4.4" fill="#606060" text-anchor="middle">0</text>
<line x1="432.0" y1="134.4" x2="432.0" y2="132.4" stroke="#b0b0b0" stroke-width="0.5"/>
<line x1="432.0" y1="26.4" x2="432.0" y2="28.4" stroke="#b0b0b0" stroke-width="0.5"/>
<text x="432.0" y="139.4" font-size="4.4" fill="#606060" text-anchor="middle">20</text>
<line x1="458.6" y1="134.4" x2="458.6" y2="132.4" stroke="#b0b0b0" stroke-width="0.5"/>
<line x1="458.6" y1="26.4" x2="458.6" y2="28.4" stroke="#b0b0b0" stroke-width="0.5"/>
<text x="458.6" y="139.4" font-size="4.4" fill="#606060" text-anchor="middle">40</text>
<line x1="485.3" y1="134.4" x2="485.3" y2="132.4" stroke="#b0b0b0" stroke-width="0.5"/>
<line x1="485.3" y1="26.4" x2="485.3" y2="28.4" stroke="#b0b0b0" stroke-width="0.5"/>
<text x="485.3" y="139.4" font-size="4.4" fill="#606060" text-anchor="middle">60</text>
<line x1="511.9" y1="134.4" x2="511.9" y2="132.4" stroke="#b0b0b0" stroke-width="0.5"/>
<line x1="511.9" y1="26.4" x2="511.9" y2="28.4" stroke="#b0b0b0" stroke-width="0.5"/>
<text x="511.9" y="139.4" font-size="4.4" fill="#606060" text-anchor="middle">80</text>
<line x1="538.6" y1="134.4" x2="538.6" y2="132.4" stroke="#b0b0b0" stroke-width="0.5"/>
<line x1="538.6" y1="26.4" x2="538.6" y2="28.4" stroke="#b0b0b0" stroke-width="0.5"/>
<text x="538.6" y="139.4" font-size="4.4" fill="#606060" text-anchor="middle">100</text>
<line x1="405.3" y1="134.4" x2="407.3" y2="134.4" stroke="#b0b0b0" stroke-width="0.5"/>
<line x1="547.2" y1="134.4" x2="545.2" y2="134.4" stroke="#b0b0b0" stroke-width="0.5"/>
<text x="403.8" y="135.4" font-size="4.4" fill="#606060" text-anchor="end">0</text>
<line x1="405.3" y1="114.7" x2="407.3" y2="114.7" stroke="#b0b0b0" stroke-width="0.5"/>
<line x1="547.2" y1="114.7" x2="545.2" y2="114.7" stroke="#b0b0b0" stroke-width="0.5"/>
<text x="403.8" y="115.7" font-size="4.4" fill="#606060" text-anchor="end">20</text>
<line x1="405.3" y1="95.1" x2="407.3" y2="95.1" stroke="#b0b0b0" stroke-width="0.5"/>
<line x1="547.2" y1="95.1" x2="545.2" y2="95.1" stroke="#b0b0b0" stroke-width="0.5"/>
<text x="403.8" y="96.1" font-size="4.4" fill="#606060" text-anchor="end">40</text>
<line x1="405.3" y1="75.4" x2="407.3" y2="75.4" stroke="#b0b0b0" stroke-width="0.5"/>
<line x1="547.2" y1="75.4" x2="545.2" y2="75.4" stroke="#b0b0b0" stroke-width="0.5"/>
<text x="403.8" y="76.4" font-size="4.4" fill="#606060" text-anchor="end">60</text>
<line x1="405.3" y1="55.7" x2="407.3" y2="55.7" stroke="#b0b0b0" stroke-width="0.5"/>
<line x1="547.2" y1="55.7" x2="545.2" y2="55.7" stroke="#b0b0b0" stroke-width="0.5"/>
<text x="403.8" y="56.7" font-size="4.4" fill="#606060" text-anchor="end">80</text>
<line x1="405.3" y1="36.0" x2="407.3" y2="36.0" stroke="#b0b0b0" stroke-width="0.5"/>
<line x1="547.2" y1="36.0" x2="545.2" y2="36.0" stroke="#b0b0b0" stroke-width="0.5"/>
<text x="403.8" y="37.0" font-size="4.4" fill="#606060" text-anchor="end">100</text>
<path d="M405.3,36.0 C412.0,36.0 433.4,36.0 445.3,36.0 C457.2,36.0 470.3,35.5 476.7,36.0 C483.2,36.5 481.9,37.3 483.9,39.0 C486.0,40.6 487.9,43.3 489.3,46.0 C490.6,48.7 491.5,52.1 492.1,55.1 C492.7,58.1 492.8,60.3 493.0,64.1 C493.2,67.9 493.3,71.1 493.4,77.9 C493.5,84.7 493.7,97.9 493.8,104.9 C494.0,111.8 494.1,115.7 494.3,119.6 C494.6,123.6 494.8,126.2 495.3,128.5 C495.7,130.8 496.3,132.4 497.0,133.4 C497.7,134.4 497.5,134.2 499.3,134.4 C501.1,134.6 506.5,134.4 507.9,134.4" fill="none" stroke="#e8383c" stroke-width="1.4"/>
<path d="M405.3,36.0 C410.9,36.0 428.8,36.0 438.6,36.0 C448.4,36.0 458.8,35.5 464.0,36.0 C469.1,36.5 467.7,37.3 469.6,39.0 C471.4,40.6 473.4,43.3 474.9,46.0 C476.4,48.7 477.6,52.1 478.5,55.1 C479.4,58.1 479.9,60.3 480.3,64.1 C480.8,67.9 480.9,70.3 481.1,77.9 C481.4,85.6 481.5,102.0 481.7,109.8 C481.9,117.6 482.0,120.9 482.3,124.6 C482.7,128.3 483.1,130.3 483.7,131.9 C484.3,133.6 484.3,134.0 485.9,134.4 C487.5,134.8 492.1,134.4 493.3,134.4" fill="none" stroke="#e8383c" stroke-width="1.4" stroke-dasharray="2.2,2.2"/>
<path d="M405.3,36.0 C405.3,39.3 405.5,48.8 405.6,55.7 C405.7,62.6 405.6,71.3 405.8,77.4 C406.1,83.4 406.2,88.0 407.2,91.8 C408.1,95.7 409.4,98.1 411.6,100.5 C413.7,102.9 416.4,104.4 420.2,106.2 C424.1,108.0 429.7,109.4 434.6,111.2 C439.6,113.0 444.7,115.2 450.0,117.2 C455.2,119.2 461.3,121.3 466.1,123.4 C470.9,125.5 475.3,128.0 478.6,129.7 C481.9,131.3 484.3,132.5 485.9,133.3 C487.6,134.1 486.5,134.2 488.6,134.4 C490.7,134.6 495.4,134.4 498.6,134.4 C501.8,134.4 506.4,134.4 507.9,134.4" fill="none" stroke="#12963c" stroke-width="1.4"/>
<path d="M405.3,36.0 C405.3,40.1 405.5,52.8 405.6,60.6 C405.7,68.5 405.4,77.1 405.8,83.3 C406.2,89.4 406.5,93.8 408.0,97.6 C409.4,101.4 411.0,103.6 414.5,106.2 C418.0,108.7 423.5,110.2 429.0,113.0 C434.6,115.7 441.8,119.6 448.0,122.5 C454.1,125.4 461.7,128.7 466.0,130.6 C470.2,132.5 471.6,133.3 473.3,133.9 C474.9,134.5 473.9,134.3 475.9,134.4 C477.9,134.5 483.7,134.4 485.3,134.4" fill="none" stroke="#12963c" stroke-width="1.4" stroke-dasharray="2.2,2.2"/>
<rect x="496.4" y="28.5" width="48.5" height="27.3" fill="#fff" stroke="#9a9a9a" stroke-width="0.5"/>
<line x1="498.9" y1="31.8" x2="505.9" y2="31.8" stroke="#e8383c" stroke-width="1.2"/>
<text x="511.0" y="33.8" font-size="5.4" fill="#2a2a2a" textLength="22" lengthAdjust="spacingAndGlyphs">LEM I CTV</text>
<line x1="498.9" y1="38.4" x2="505.9" y2="38.4" stroke="#e8383c" stroke-width="1.2" stroke-dasharray="2.1,2"/>
<text x="511.0" y="40.4" font-size="5.4" fill="#2a2a2a" textLength="24.3" lengthAdjust="spacingAndGlyphs">MKM I CTV</text>
<line x1="498.9" y1="45.0" x2="505.9" y2="45.0" stroke="#12963c" stroke-width="1.2"/>
<text x="511.0" y="47.0" font-size="5.4" fill="#2a2a2a" textLength="29.5" lengthAdjust="spacingAndGlyphs">LEM I rectum</text>
<line x1="498.9" y1="51.5" x2="505.9" y2="51.5" stroke="#12963c" stroke-width="1.2" stroke-dasharray="2.1,2"/>
<text x="511.0" y="53.5" font-size="5.4" fill="#2a2a2a" textLength="31.2" lengthAdjust="spacingAndGlyphs">MKM I rectum</text>
<text x="460.4" y="145.6" font-size="4.5" fill="#505050">D<tspan font-size="2.6" dy="0.9">RBE</tspan><tspan dy="-0.9" textLength="22" lengthAdjust="spacingAndGlyphs"> [ Gy(RBE) ]</tspan></text>
<text transform="translate(393.9,80.4) rotate(-90)" font-size="4.8" fill="#505050" text-anchor="middle">Volume [ % ]</text>
<rect x="404.4" y="153.3" width="140.6" height="107.7" fill="#fff" stroke="#a8a8a8" stroke-width="0.8"/>
<line x1="404.4" y1="261.0" x2="404.4" y2="259.0" stroke="#b0b0b0" stroke-width="0.5"/>
<line x1="404.4" y1="153.3" x2="404.4" y2="155.3" stroke="#b0b0b0" stroke-width="0.5"/>
<text x="404.4" y="265.8" font-size="4.4" fill="#606060" text-anchor="middle">0</text>
<line x1="430.9" y1="261.0" x2="430.9" y2="259.0" stroke="#b0b0b0" stroke-width="0.5"/>
<line x1="430.9" y1="153.3" x2="430.9" y2="155.3" stroke="#b0b0b0" stroke-width="0.5"/>
<text x="430.9" y="265.8" font-size="4.4" fill="#606060" text-anchor="middle">20</text>
<line x1="457.3" y1="261.0" x2="457.3" y2="259.0" stroke="#b0b0b0" stroke-width="0.5"/>
<line x1="457.3" y1="153.3" x2="457.3" y2="155.3" stroke="#b0b0b0" stroke-width="0.5"/>
<text x="457.3" y="265.8" font-size="4.4" fill="#606060" text-anchor="middle">40</text>
<line x1="483.8" y1="261.0" x2="483.8" y2="259.0" stroke="#b0b0b0" stroke-width="0.5"/>
<line x1="483.8" y1="153.3" x2="483.8" y2="155.3" stroke="#b0b0b0" stroke-width="0.5"/>
<text x="483.8" y="265.8" font-size="4.4" fill="#606060" text-anchor="middle">60</text>
<line x1="510.2" y1="261.0" x2="510.2" y2="259.0" stroke="#b0b0b0" stroke-width="0.5"/>
<line x1="510.2" y1="153.3" x2="510.2" y2="155.3" stroke="#b0b0b0" stroke-width="0.5"/>
<text x="510.2" y="265.8" font-size="4.4" fill="#606060" text-anchor="middle">80</text>
<line x1="536.7" y1="261.0" x2="536.7" y2="259.0" stroke="#b0b0b0" stroke-width="0.5"/>
<line x1="536.7" y1="153.3" x2="536.7" y2="155.3" stroke="#b0b0b0" stroke-width="0.5"/>
<text x="536.7" y="265.8" font-size="4.4" fill="#606060" text-anchor="middle">100</text>
<line x1="404.4" y1="261.0" x2="406.4" y2="261.0" stroke="#b0b0b0" stroke-width="0.5"/>
<line x1="545.0" y1="261.0" x2="543.0" y2="261.0" stroke="#b0b0b0" stroke-width="0.5"/>
<text x="402.9" y="262.0" font-size="4.4" fill="#606060" text-anchor="end">0</text>
<line x1="404.4" y1="241.4" x2="406.4" y2="241.4" stroke="#b0b0b0" stroke-width="0.5"/>
<line x1="545.0" y1="241.4" x2="543.0" y2="241.4" stroke="#b0b0b0" stroke-width="0.5"/>
<text x="402.9" y="242.4" font-size="4.4" fill="#606060" text-anchor="end">20</text>
<line x1="404.4" y1="221.9" x2="406.4" y2="221.9" stroke="#b0b0b0" stroke-width="0.5"/>
<line x1="545.0" y1="221.9" x2="543.0" y2="221.9" stroke="#b0b0b0" stroke-width="0.5"/>
<text x="402.9" y="222.9" font-size="4.4" fill="#606060" text-anchor="end">40</text>
<line x1="404.4" y1="202.3" x2="406.4" y2="202.3" stroke="#b0b0b0" stroke-width="0.5"/>
<line x1="545.0" y1="202.3" x2="543.0" y2="202.3" stroke="#b0b0b0" stroke-width="0.5"/>
<text x="402.9" y="203.3" font-size="4.4" fill="#606060" text-anchor="end">60</text>
<line x1="404.4" y1="182.8" x2="406.4" y2="182.8" stroke="#b0b0b0" stroke-width="0.5"/>
<line x1="545.0" y1="182.8" x2="543.0" y2="182.8" stroke="#b0b0b0" stroke-width="0.5"/>
<text x="402.9" y="183.8" font-size="4.4" fill="#606060" text-anchor="end">80</text>
<line x1="404.4" y1="163.2" x2="406.4" y2="163.2" stroke="#b0b0b0" stroke-width="0.5"/>
<line x1="545.0" y1="163.2" x2="543.0" y2="163.2" stroke="#b0b0b0" stroke-width="0.5"/>
<text x="402.9" y="164.2" font-size="4.4" fill="#606060" text-anchor="end">100</text>
<path d="M404.4,163.2 C408.8,163.2 423.0,163.1 430.9,163.2 C438.7,163.3 444.4,163.3 451.5,163.7 C458.6,164.0 467.9,164.7 473.7,165.4 C479.6,166.0 483.5,166.8 486.6,167.4 C489.6,168.0 490.6,168.3 491.9,169.1 C493.1,169.9 493.6,170.3 494.1,172.3 C494.6,174.3 494.5,173.9 494.6,181.0 C494.8,188.1 494.9,206.6 495.0,215.0 C495.2,223.5 495.2,226.5 495.4,231.7 C495.6,236.8 495.8,242.1 496.1,245.7 C496.3,249.4 496.7,251.5 497.0,253.7 C497.4,255.8 497.6,257.4 498.2,258.6 C498.8,259.7 499.5,260.2 500.4,260.6 C501.4,261.0 502.0,260.9 503.6,261.0 C505.3,261.1 509.1,261.0 510.2,261.0" fill="none" stroke="#e8383c" stroke-width="1.4"/>
<path d="M404.4,163.2 C408.8,163.3 424.2,163.4 430.9,163.7 C437.6,163.9 440.2,164.4 444.6,164.8 C449.1,165.1 452.6,165.2 457.6,165.8 C462.6,166.5 471.3,167.1 474.5,168.6 C477.7,170.1 476.3,171.8 476.9,174.9 C477.5,178.1 477.9,183.0 478.4,187.7 C478.8,192.3 479.1,197.0 479.8,202.7 C480.5,208.4 481.6,216.7 482.3,221.9 C483.0,227.1 483.3,229.8 483.9,233.8 C484.6,237.8 485.3,242.3 486.3,245.7 C487.3,249.2 488.5,252.4 489.7,254.6 C491.0,256.9 492.7,258.2 493.8,259.2 C495.0,260.2 495.8,260.3 496.7,260.6 C497.7,260.9 498.3,260.9 499.7,261.0 C501.0,261.1 504.1,261.0 504.9,261.0" fill="none" stroke="#e8383c" stroke-width="1.4" stroke-dasharray="2.2,2.2"/>
<path d="M404.4,163.2 C404.5,166.5 404.5,176.9 404.8,182.8 C405.1,188.6 405.7,193.4 406.1,198.4 C406.5,203.5 406.6,208.7 407.2,213.1 C407.8,217.5 408.2,221.7 409.6,224.8 C410.9,227.9 412.9,229.8 415.2,231.7 C417.6,233.5 421.2,234.6 423.8,236.0 C426.4,237.3 426.9,238.1 430.9,239.9 C434.9,241.6 443.7,244.4 447.8,246.3 C451.9,248.2 453.4,249.5 455.6,251.2 C457.8,252.9 459.2,255.1 460.8,256.6 C462.3,258.1 463.8,259.3 465.0,260.0 C466.2,260.8 464.8,260.8 467.9,261.0 C471.0,261.2 477.4,261.0 483.8,261.0 C490.2,261.0 502.5,261.0 506.3,261.0" fill="none" stroke="#12963c" stroke-width="1.4"/>
<path d="M404.4,163.2 C404.5,167.1 404.7,180.0 404.9,186.9 C405.2,193.7 405.5,198.9 405.9,204.3 C406.2,209.6 406.6,214.9 407.2,218.9 C407.8,223.0 408.7,226.4 409.6,228.7 C410.4,231.1 410.7,231.3 412.3,233.1 C413.9,234.9 416.1,237.8 419.2,239.5 C422.3,241.2 427.2,241.9 430.9,243.4 C434.5,244.9 438.7,246.4 441.3,248.6 C443.9,250.7 445.0,254.3 446.5,256.3 C448.0,258.3 449.4,259.9 450.3,260.7 C451.2,261.5 449.8,261.0 452.0,261.0 C454.3,261.0 462.0,261.0 463.9,261.0" fill="none" stroke="#12963c" stroke-width="1.4" stroke-dasharray="2.2,2.2"/>
<rect x="494.8" y="155.5" width="47.7" height="27.0" fill="#fff" stroke="#9a9a9a" stroke-width="0.5"/>
<line x1="497.3" y1="158.8" x2="504.3" y2="158.8" stroke="#e8383c" stroke-width="1.2"/>
<text x="509.4" y="160.8" font-size="5.4" fill="#2a2a2a" textLength="22" lengthAdjust="spacingAndGlyphs">LEM I CTV</text>
<line x1="497.3" y1="165.3" x2="504.3" y2="165.3" stroke="#e8383c" stroke-width="1.2" stroke-dasharray="2.1,2"/>
<text x="509.4" y="167.3" font-size="5.4" fill="#2a2a2a" textLength="24.3" lengthAdjust="spacingAndGlyphs">MKM I CTV</text>
<line x1="497.3" y1="171.8" x2="504.3" y2="171.8" stroke="#12963c" stroke-width="1.2"/>
<text x="509.4" y="173.8" font-size="5.4" fill="#2a2a2a" textLength="29.5" lengthAdjust="spacingAndGlyphs">LEM I rectum</text>
<line x1="497.3" y1="178.3" x2="504.3" y2="178.3" stroke="#12963c" stroke-width="1.2" stroke-dasharray="2.1,2"/>
<text x="509.4" y="180.3" font-size="5.4" fill="#2a2a2a" textLength="31.2" lengthAdjust="spacingAndGlyphs">MKM I rectum</text>
<text x="458.9" y="270.5" font-size="4.5" fill="#505050">D<tspan font-size="2.6" dy="0.9">RBE</tspan><tspan dy="-0.9" textLength="22" lengthAdjust="spacingAndGlyphs"> [ Gy(RBE) ]</tspan></text>
<text transform="translate(393.9,207.0) rotate(-90)" font-size="4.8" fill="#505050" text-anchor="middle">Volume [ % ]</text>
<line x1="96" y1="141.8" x2="281" y2="141.8" stroke="#3a3a3a" stroke-width="1"/>
<text x="31.8" y="23.9" fill="#fff" font-weight="bold" font-size="10.6" textLength="20.5" lengthAdjust="spacingAndGlyphs">LEM</text>
<text x="322.5" y="21.1" fill="#fff" font-weight="bold" font-size="10.6" textLength="27.7" lengthAdjust="spacingAndGlyphs">MKM</text>
<text x="31.5" y="162.2" fill="#fff" font-weight="bold" font-size="10.6" textLength="20.5" lengthAdjust="spacingAndGlyphs">LEM</text>
<text x="322.7" y="162.2" fill="#fff" font-weight="bold" font-size="10.6" textLength="27.7" lengthAdjust="spacingAndGlyphs">MKM</text>
<rect x="113.7" y="7" width="131.7" height="6" fill="url(#jet)" stroke="#d8d8d8" stroke-width="0.45"/><line x1="113.7" y1="13.3" x2="245.4" y2="13.3" stroke="#ddd" stroke-width="0.6"/><text x="113.7" y="18.4" fill="#b8b8b8" font-size="5" text-anchor="middle">0</text><text x="126.9" y="18.4" fill="#b8b8b8" font-size="5" text-anchor="middle">8</text><text x="140.0" y="18.4" fill="#b8b8b8" font-size="5" text-anchor="middle">16</text><text x="153.2" y="18.4" fill="#b8b8b8" font-size="5" text-anchor="middle">24</text><text x="166.4" y="18.4" fill="#b8b8b8" font-size="5" text-anchor="middle">32</text><text x="179.6" y="18.4" fill="#b8b8b8" font-size="5" text-anchor="middle">40</text><text x="192.7" y="18.4" fill="#b8b8b8" font-size="5" text-anchor="middle">48</text><text x="205.9" y="18.4" fill="#b8b8b8" font-size="5" text-anchor="middle">56</text><text x="219.1" y="18.4" fill="#b8b8b8" font-size="5" text-anchor="middle">64</text><text x="232.2" y="18.4" fill="#b8b8b8" font-size="5" text-anchor="middle">72</text><text x="165.5" y="24.6" fill="#b8b8b8" font-size="5.5">[ Gy(RBE) ]</text>
<rect x="122.8" y="144" width="131.7" height="5.699999999999989" fill="url(#jet)" stroke="#d8d8d8" stroke-width="0.45"/><line x1="122.8" y1="150.0" x2="254.5" y2="150.0" stroke="#ddd" stroke-width="0.6"/><text x="122.6" y="154.8" fill="#b8b8b8" font-size="5" text-anchor="middle">0</text><text x="138.7" y="154.8" fill="#b8b8b8" font-size="5" text-anchor="middle">10</text><text x="154.7" y="154.8" fill="#b8b8b8" font-size="5" text-anchor="middle">20</text><text x="170.8" y="154.8" fill="#b8b8b8" font-size="5" text-anchor="middle">30</text><text x="186.8" y="154.8" fill="#b8b8b8" font-size="5" text-anchor="middle">40</text><text x="202.8" y="154.8" fill="#b8b8b8" font-size="5" text-anchor="middle">50</text><text x="218.9" y="154.8" fill="#b8b8b8" font-size="5" text-anchor="middle">60</text><text x="234.9" y="154.8" fill="#b8b8b8" font-size="5" text-anchor="middle">70</text><text x="251.0" y="154.8" fill="#b8b8b8" font-size="5" text-anchor="middle">80</text><text x="174.7" y="160.5" fill="#b8b8b8" font-size="5.5">[ Gy(RBE) ]</text>
</svg>
</body></html>
